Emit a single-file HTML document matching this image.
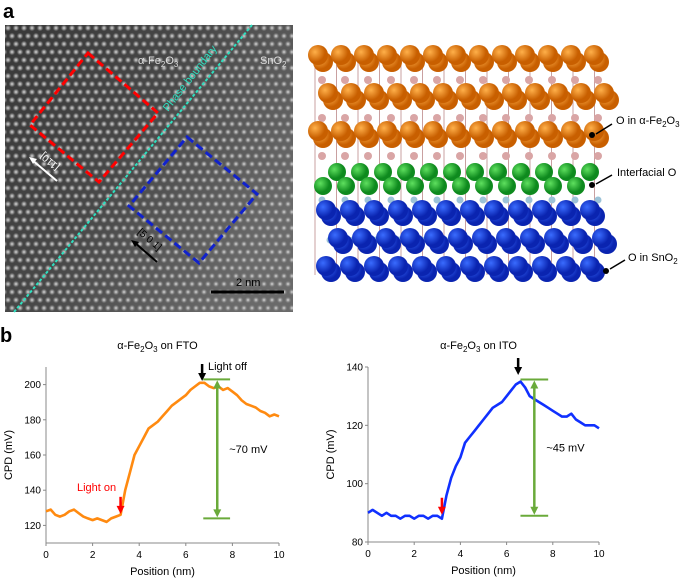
<!DOCTYPE html>
<html><head><meta charset="utf-8">
<style>
body{margin:0;background:#fff;width:685px;height:579px;overflow:hidden;font-family:"Liberation Sans",sans-serif;}
svg text{font-family:"Liberation Sans",sans-serif;}
</style></head>
<body>
<svg id="fig" width="685" height="579" viewBox="0 0 685 579" xmlns="http://www.w3.org/2000/svg">
<defs>
<radialGradient id="dot"><stop offset="0" stop-color="#dcdcdc"/><stop offset="0.5" stop-color="#9a9a9a" stop-opacity="0.8"/><stop offset="1" stop-color="#777" stop-opacity="0"/></radialGradient>
<pattern id="lat" width="8" height="16" patternUnits="userSpaceOnUse"><circle cx="4" cy="4" r="3.4" fill="url(#dot)"/><circle cx="0" cy="12" r="3.4" fill="url(#dot)"/><circle cx="8" cy="12" r="3.4" fill="url(#dot)"/></pattern>
<linearGradient id="bg" x1="0" y1="0" x2="1" y2="0.6"><stop offset="0" stop-color="#383838"/><stop offset="0.5" stop-color="#484848"/><stop offset="1" stop-color="#6a6a6a"/></linearGradient>
<radialGradient id="og" cx="0.35" cy="0.35"><stop offset="0" stop-color="#ffb04a"/><stop offset="1" stop-color="#c85f00"/></radialGradient>
<radialGradient id="gg" cx="0.35" cy="0.35"><stop offset="0" stop-color="#5fe05f"/><stop offset="1" stop-color="#0e8a1e"/></radialGradient>
<radialGradient id="bgd" cx="0.35" cy="0.35"><stop offset="0" stop-color="#3a6cff"/><stop offset="1" stop-color="#0a24b0"/></radialGradient>
</defs>
<text x="3" y="18" font-size="20" font-weight="bold">a</text>
<g>
<rect x="5" y="25" width="288" height="287" fill="url(#bg)"/>
<rect x="5" y="25" width="288" height="287" fill="url(#lat)"/>
<line x1="14" y1="312" x2="252" y2="25" stroke="#2ee0c0" stroke-width="2" stroke-dasharray="3,2"/>
<text x="0" y="0" font-size="11" fill="#2ee0c0" transform="translate(168,112) rotate(-52)">Phase boundary</text>
<polygon points="88,53 158,113 99,182 30,125" fill="none" stroke="#f00" stroke-width="3" stroke-dasharray="8,4"/>
<polygon points="187,137 257,194 199,263 129,206" fill="none" stroke="#12c" stroke-width="3" stroke-dasharray="8,4"/>
<text x="138" y="64" font-size="11" fill="#ddd">α-Fe<tspan font-size="8" dy="3">2</tspan><tspan dy="-3">O</tspan><tspan font-size="8" dy="3">3</tspan></text>
<text x="260" y="64" font-size="11" fill="#ddd">SnO<tspan font-size="8" dy="3">2</tspan></text>
<line x1="57" y1="181" x2="31" y2="159" stroke="#fff" stroke-width="2"/><polygon points="29,157 37,159 33,164" fill="#fff"/>
<text x="0" y="0" font-size="10" fill="#fff" transform="translate(60,166) rotate(220)">[110]</text>
<line x1="157" y1="262" x2="134" y2="242" stroke="#000" stroke-width="2"/><polygon points="131,240 139,242 135,247" fill="#000"/>
<text x="0" y="0" font-size="10" fill="#000" transform="translate(137,233) rotate(40)">[5 0 1]</text>
<line x1="211" y1="292" x2="284" y2="292" stroke="#000" stroke-width="3"/>
<text x="236" y="286" font-size="11" fill="#000">2 nm</text>
</g>
<g id="crystal"></g>
<g>
<line x1="596" y1="134" x2="612" y2="124" stroke="#000" stroke-width="1.5"/><circle cx="592" cy="135" r="3" fill="#000"/>
<text x="616" y="124" font-size="11">O in α-Fe<tspan font-size="8" dy="3">2</tspan><tspan dy="-3">O</tspan><tspan font-size="8" dy="3">3</tspan></text>
<line x1="596" y1="184" x2="612" y2="175" stroke="#000" stroke-width="1.5"/><circle cx="592" cy="185" r="3" fill="#000"/>
<text x="617" y="176" font-size="11">Interfacial O</text>
<line x1="610" y1="269" x2="625" y2="260" stroke="#000" stroke-width="1.5"/><circle cx="606" cy="271" r="3" fill="#000"/>
<text x="628" y="261" font-size="11">O in SnO<tspan font-size="8" dy="3">2</tspan></text>
</g>
<text x="0" y="342" font-size="20" font-weight="bold">b</text>
<g id="c1"></g>
<g id="c2"></g>
</svg>
<script>
const xs = [0,0.2,0.4,0.6,0.8,1.0,1.2,1.4,1.6,1.8,2.0,2.2,2.4,2.6,2.8,3.0,3.2,3.4,3.6,3.8,4.0,4.2,4.4,4.6,4.8,5.0,5.2,5.4,5.6,5.8,6.0,6.2,6.4,6.6,6.8,7.0,7.2,7.4,7.6,7.8,8.0,8.2,8.4,8.6,8.8,9.0,9.2,9.4,9.6,9.8,10];
const ftoValues = [128,129,126,125,126,128,129,127,125,124,123,124,123,122,124,125,126,140,150,160,165,170,175,177,179,182,185,188,190,192,194,197,199,201,201,199,198,199,197,198,196,194,191,189,188,187,185,184,182,183,182];
const itoValues = [90,91,90,89,90,89,89,88,89,89,88,89,89,88,89,89,88,96,102,106,109,114,116,118,120,122,124,126,127,128,130,132,134,135,133,130,129,128,127,126,125,124,123,123,124,122,121,120,120,120,119];
const xTicks = [0,2,4,6,8,10];
const ftoYTicks = [120,140,160,180,200];
const itoYTicks = [80,100,120,140];
const NS='http://www.w3.org/2000/svg';
function mk(p,tag,at,txt){const e=document.createElementNS(NS,tag);for(const k in at)e.setAttribute(k,at[k]);if(txt!==undefined)e.textContent=txt;p.appendChild(e);return e;}

const cr=document.getElementById('crystal');
function sphere(cx,cy,r,fill){const c=mk(cr,'circle',{cx:cx,cy:cy,r:r,fill:fill});

}
for(let i=0;i<14;i++){const x=315+i*21.5;
 mk(cr,'line',{x1:x,y1:55,x2:x,y2:275,stroke:'#c9a0a0','stroke-width':1});}
for(let row=0;row<3;row++){for(let i=0;i<13;i++){const x=318+i*23+(row%2?10:0),y=55+row*38;
 sphere(x+5,y+7,10,'url(#og)');sphere(x,y,10,'url(#og)');}
 for(let i=0;i<13;i++){sphere(322+i*23,80+row*38,4,'#d9a5a5');}}
for(let i=0;i<12;i++){sphere(337+i*23,172,9,'url(#gg)');sphere(323+i*23,186,9,'url(#gg)');}
for(let i=0;i<13;i++){sphere(322+i*23,200,3.5,'#9cc3d8');sphere(330+i*23,240,3.5,'#9cc3d8');}
for(let row=0;row<3;row++){for(let i=0;i<12;i++){const x=326+i*24+(row%2?12:0),y=210+row*28;
 sphere(x+5,y+6,10,'url(#bgd)');sphere(x,y,10,'url(#bgd)');}}

function chart(g,vals,yT,o){
 const X=v=>o.x0+(v/10)*(o.x1-o.x0);
 const Y=v=>o.yb-(v-o.ymin)/(o.ymax-o.ymin)*(o.yb-o.yt);
 const ax=mk(g,'path',{d:`M${o.x0},${o.yt}V${o.yb}H${o.x1}`,fill:'none',stroke:'#888','stroke-width':1});
 
 
 xTicks.forEach(t=>{mk(g,'line',{x1:X(t),x2:X(t),y1:o.yb,y2:o.yb+3,stroke:'#888'});
  const tl=mk(g,'text',{x:X(t),y:o.yb+15,'font-size':10,'text-anchor':'middle'},t);
  
  });
 yT.forEach(t=>{mk(g,'line',{x1:o.x0-3,x2:o.x0,y1:Y(t),y2:Y(t),stroke:'#888'});
  const tl=mk(g,'text',{x:o.x0-5,y:Y(t)+3.5,'font-size':10,'text-anchor':'end'},t);
  
  });
 const xt=mk(g,'text',{x:(o.x0+o.x1)/2,y:o.yb+32,'font-size':11,'text-anchor':'middle'},'Position (nm)');
 
 
 const yl=mk(g,'text',{x:0,y:0,'font-size':11,'text-anchor':'middle',transform:`translate(${o.ylx},${(o.yt+o.yb)/2}) rotate(-90)`},'CPD (mV)');
 
 
 const ti=mk(g,'text',{x:(o.x0+o.x1)/2-5,y:349,'font-size':11,'text-anchor':'middle'});
 ti.innerHTML='α-Fe<tspan font-size="8" dy="3">2</tspan><tspan dy="-3">O</tspan><tspan font-size="8" dy="3">3</tspan><tspan dy="-3"> on '+o.sub+'</tspan>';
 
 
 const d=vals.map((v,i)=>(i?'L':'M')+X(xs[i]).toFixed(1)+','+Y(v).toFixed(1)).join('');
 const ln=mk(g,'path',{d:d,fill:'none',stroke:o.color,'stroke-width':2.6,'stroke-linejoin':'round'});
 
 
 const gr='#6aaa3a';
 mk(g,'line',{x1:X(o.gx0),x2:X(o.gx1),y1:Y(o.top),y2:Y(o.top),stroke:gr,'stroke-width':2});
 mk(g,'line',{x1:X(o.gx0),x2:X(o.gx1),y1:Y(o.bot),y2:Y(o.bot),stroke:gr,'stroke-width':2});
 const ga=X(o.garr);
 mk(g,'line',{x1:ga,x2:ga,y1:Y(o.top)+6,y2:Y(o.bot)-6,stroke:gr,'stroke-width':2.5});
 mk(g,'polygon',{points:`${ga-4},${Y(o.top)+9} ${ga+4},${Y(o.top)+9} ${ga},${Y(o.top)+1}`,fill:gr});
 mk(g,'polygon',{points:`${ga-4},${Y(o.bot)-9} ${ga+4},${Y(o.bot)-9} ${ga},${Y(o.bot)-1}`,fill:gr});
 const dt=mk(g,'text',{x:ga+12,y:(Y(o.top)+Y(o.bot))/2+4,'font-size':11},o.delta);
 
 
 const ba=X(o.peak);
 mk(g,'line',{x1:ba,x2:ba,y1:o.bay,y2:o.bay+11,stroke:'#000','stroke-width':2.5});
 mk(g,'polygon',{points:`${ba-4},${o.bay+9} ${ba+4},${o.bay+9} ${ba},${o.bay+17}`,fill:'#000'});
 const ra=X(3.2),ry=Y(o.onv);
 mk(g,'line',{x1:ra,x2:ra,y1:ry-18,y2:ry-7,stroke:'#f00','stroke-width':2.5});
 mk(g,'polygon',{points:`${ra-4},${ry-9} ${ra+4},${ry-9} ${ra},${ry-1}`,fill:'#f00'});
}
const c1=document.getElementById('c1');
chart(c1,ftoValues,ftoYTicks,{x0:46,x1:279,yt:367,yb:543,ymin:110,ymax:210,ylx:12,color:'#ff8a10',sub:'FTO',gx0:6.75,gx1:7.9,top:203,bot:124,garr:7.35,delta:'~70 mV',peak:6.7,bay:364,onv:126});
const l1=mk(c1,'text',{x:208,y:370,'font-size':11},'Light off');


const l2=mk(c1,'text',{x:77,y:491,'font-size':11,fill:'#f00'},'Light on');


const c2=document.getElementById('c2');
chart(c2,itoValues,itoYTicks,{x0:368,x1:599,yt:367,yb:542,ymin:80,ymax:140,ylx:334,color:'#1030ff',sub:'ITO',gx0:6.6,gx1:7.8,top:135.7,bot:89,garr:7.2,delta:'~45 mV',peak:6.5,bay:358,onv:89});
</script>
</body></html>
